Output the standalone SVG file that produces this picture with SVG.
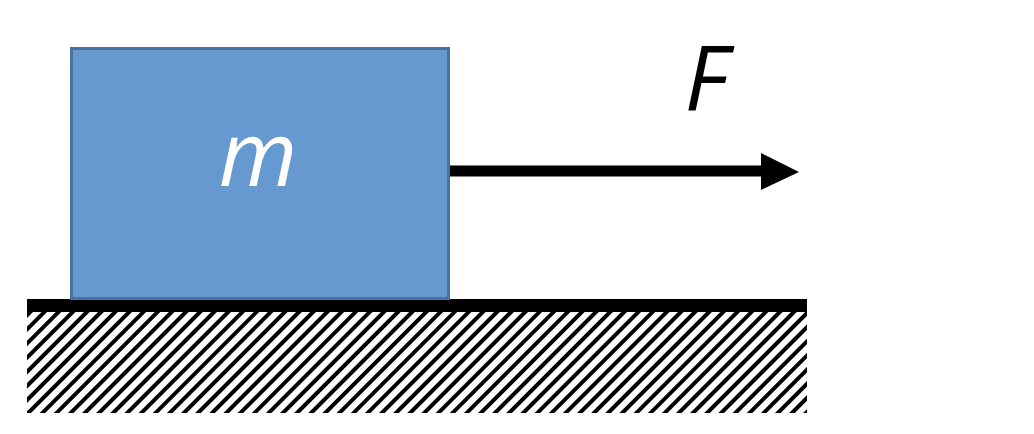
<svg xmlns="http://www.w3.org/2000/svg" width="1034" height="434" viewBox="0 0 1034 434">
<style>
.lbl{font-family:"Open Sans","Liberation Sans",sans-serif;font-style:italic;font-size:90px}
</style>
<defs>
<pattern id="hatch" patternUnits="userSpaceOnUse" width="10" height="10" patternTransform="rotate(45)">
<rect width="10" height="10" fill="#fff"/>
<rect x="0" y="0" width="4" height="10" fill="#000"/>
</pattern>
</defs>
<rect width="1034" height="434" fill="#fff"/>
<g id="ground">
<rect x="27" y="312" width="780" height="101" fill="url(#hatch)"/>
<rect x="27" y="299" width="780" height="13" fill="#000"/>
</g>
<g id="mass">
<rect x="71.5" y="48.5" width="377" height="250" fill="#6699d0" stroke="#4a72a0" stroke-width="3"/>
<text class="lbl" x="258" y="186" text-anchor="middle" fill="#fff">m</text>
</g>
<g id="connectors">
<line x1="450" y1="171" x2="764" y2="171" stroke="#000" stroke-width="11"/>
<polygon points="761,153 799,172 761,190" fill="#000"/>
</g>
<g id="force">
<text class="lbl" x="706" y="110" text-anchor="middle" fill="#000">F</text>
</g>
</svg>
